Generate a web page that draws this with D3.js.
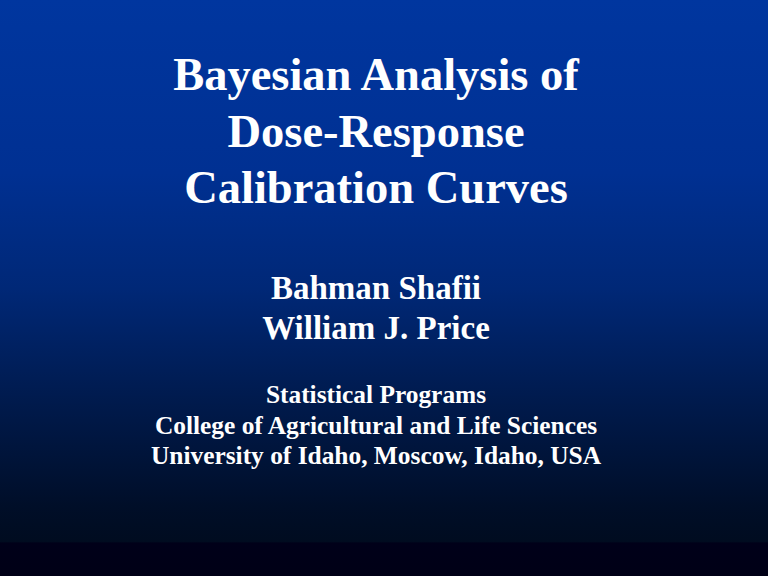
<!DOCTYPE html>
<html>
<head>
<meta charset="utf-8">
<script src="https://cdn.jsdelivr.net/npm/d3@7"></script>
<style>
  html, body { margin: 0; padding: 0; background: #000; }
  svg { display: block; }
</style>
</head>
<body>
<svg id="slide"></svg>
<script>
const width = 768;
const height = 576;

const titleLines = ["Bayesian Analysis of", "Dose-Response", "Calibration Curves"];
const authorLines = ["Bahman Shafii", "William J. Price"];
const affiliationLines = [
  "Statistical Programs",
  "College of Agricultural and Life Sciences",
  "University of Idaho, Moscow, Idaho, USA",
];

const gradientStops = [
  { offset: "0%", color: "#00369f" },
  { offset: "30%", color: "#003092" },
  { offset: "50%", color: "#002877" },
  { offset: "70%", color: "#001a4c" },
  { offset: "88%", color: "#000e28" },
  { offset: "94%", color: "#000c20" },
  { offset: "94.3%", color: "#000019" },
  { offset: "100%", color: "#000016" },
];

const svg = d3.select("#slide")
  .attr("width", width)
  .attr("height", height)
  .attr("viewBox", `0 0 ${width} ${height}`);

const grad = svg.append("defs")
  .append("linearGradient")
  .attr("id", "bg")
  .attr("x1", 0).attr("y1", 0)
  .attr("x2", 0).attr("y2", 1);

grad.selectAll("stop")
  .data(gradientStops)
  .join("stop")
  .attr("offset", (d) => d.offset)
  .attr("stop-color", (d) => d.color);

svg.append("rect")
  .attr("width", width)
  .attr("height", height)
  .attr("fill", "url(#bg)");

const cx = 376;
const font = "'Times New Roman', 'Liberation Serif', serif";

function block(lines, firstBaseline, step, size) {
  svg.append("g")
    .selectAll("text")
    .data(lines)
    .join("text")
    .attr("x", cx)
    .attr("y", (d, i) => firstBaseline + i * step)
    .attr("text-anchor", "middle")
    .attr("font-family", font)
    .attr("font-weight", "bold")
    .attr("font-size", size)
    .attr("fill", "#ffffff")
    .text((d) => d);
}

block(titleLines, 90, 56.5, 46.5);
block(authorLines, 299, 40, 33);
block(affiliationLines, 403, 30.5, 25.4);
</script>
</body>
</html>
